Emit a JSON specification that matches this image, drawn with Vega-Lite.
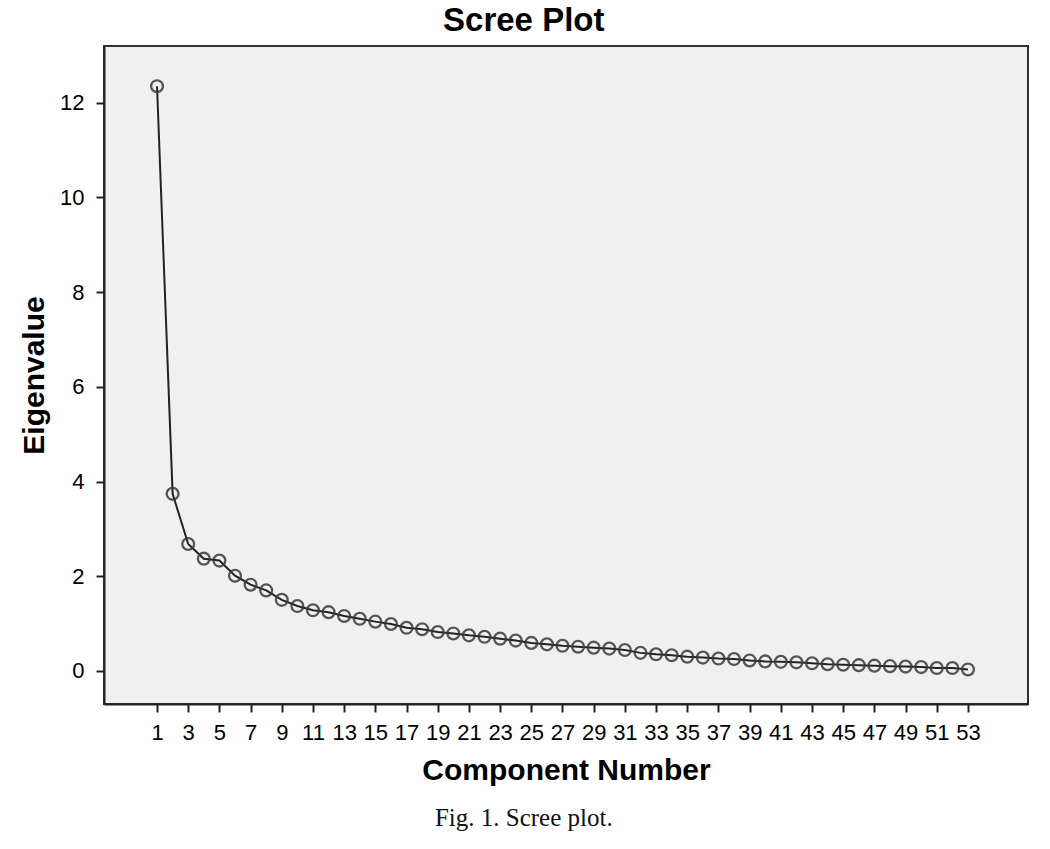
{
  "$schema": "https://vega.github.io/schema/vega-lite/v6.json",
  "background": "white",
  "padding": {"left": 18, "top": 4, "right": 20, "bottom": 10},
  "title": {"text": "Fig. 1. Scree plot.", "orient": "bottom", "anchor": "middle", "frame": "bounds", "font": "Liberation Serif", "fontSize": 25, "fontWeight": "normal", "color": "#111", "offset": 20},
  "config": {
    "font": "Liberation Sans",
    "view": {"stroke": "#333", "strokeWidth": 2, "fill": "#f0f0f0"},
    "axis": {"grid": false, "domainColor": "#222", "domainWidth": 2, "tickColor": "#222", "tickWidth": 2, "tickSize": 8, "labelFont": "Liberation Sans", "labelFontSize": 22, "labelColor": "#000", "titleFont": "Liberation Sans", "titleFontSize": 30, "titleFontWeight": "bold", "titleColor": "#000"}
  },
  "vconcat": [
    {
      "width": 924,
      "height": 658,
      "title": {"text": "Scree Plot", "anchor": "middle", "frame": "bounds", "font": "Liberation Sans", "fontSize": 33, "fontWeight": "bold", "color": "#000", "offset": 8},
      "data": {"values": [
        {"component": 1, "eigenvalue": 12.35},
        {"component": 2, "eigenvalue": 3.74},
        {"component": 3, "eigenvalue": 2.68},
        {"component": 4, "eigenvalue": 2.37},
        {"component": 5, "eigenvalue": 2.33},
        {"component": 6, "eigenvalue": 2.01},
        {"component": 7, "eigenvalue": 1.82},
        {"component": 8, "eigenvalue": 1.70},
        {"component": 9, "eigenvalue": 1.50},
        {"component": 10, "eigenvalue": 1.37},
        {"component": 11, "eigenvalue": 1.28},
        {"component": 12, "eigenvalue": 1.24},
        {"component": 13, "eigenvalue": 1.16},
        {"component": 14, "eigenvalue": 1.10},
        {"component": 15, "eigenvalue": 1.04},
        {"component": 16, "eigenvalue": 0.99},
        {"component": 17, "eigenvalue": 0.91},
        {"component": 18, "eigenvalue": 0.88},
        {"component": 19, "eigenvalue": 0.82},
        {"component": 20, "eigenvalue": 0.79},
        {"component": 21, "eigenvalue": 0.75},
        {"component": 22, "eigenvalue": 0.72},
        {"component": 23, "eigenvalue": 0.68},
        {"component": 24, "eigenvalue": 0.64},
        {"component": 25, "eigenvalue": 0.59},
        {"component": 26, "eigenvalue": 0.56},
        {"component": 27, "eigenvalue": 0.53},
        {"component": 28, "eigenvalue": 0.51},
        {"component": 29, "eigenvalue": 0.49},
        {"component": 30, "eigenvalue": 0.47},
        {"component": 31, "eigenvalue": 0.44},
        {"component": 32, "eigenvalue": 0.38},
        {"component": 33, "eigenvalue": 0.35},
        {"component": 34, "eigenvalue": 0.33},
        {"component": 35, "eigenvalue": 0.30},
        {"component": 36, "eigenvalue": 0.28},
        {"component": 37, "eigenvalue": 0.26},
        {"component": 38, "eigenvalue": 0.25},
        {"component": 39, "eigenvalue": 0.22},
        {"component": 40, "eigenvalue": 0.20},
        {"component": 41, "eigenvalue": 0.19},
        {"component": 42, "eigenvalue": 0.18},
        {"component": 43, "eigenvalue": 0.16},
        {"component": 44, "eigenvalue": 0.14},
        {"component": 45, "eigenvalue": 0.13},
        {"component": 46, "eigenvalue": 0.12},
        {"component": 47, "eigenvalue": 0.11},
        {"component": 48, "eigenvalue": 0.10},
        {"component": 49, "eigenvalue": 0.09},
        {"component": 50, "eigenvalue": 0.08},
        {"component": 51, "eigenvalue": 0.06},
        {"component": 52, "eigenvalue": 0.06},
        {"component": 53, "eigenvalue": 0.03}
      ]},
      "encoding": {
        "x": {"field": "component", "type": "quantitative", "title": "Component Number",
          "scale": {"domain": [-2.4, 56.85], "nice": false, "zero": false},
          "axis": {"values": [1,3,5,7,9,11,13,15,17,19,21,23,25,27,29,31,33,35,37,39,41,43,45,47,49,51,53], "labelPadding": 10, "titlePadding": 12, "labelOverlap": false, "labelFlush": false}},
        "y": {"field": "eigenvalue", "type": "quantitative", "title": "Eigenvalue",
          "scale": {"domain": [-0.7, 13.2], "nice": false, "zero": false},
          "axis": {"values": [0,2,4,6,8,10,12], "labelPadding": 12, "titlePadding": 10, "labelFlush": false}}
      },
      "layer": [
        {"mark": {"type": "line", "color": "#222", "strokeWidth": 2}},
        {"mark": {"type": "point", "shape": "circle", "filled": false, "size": 140, "stroke": "#3a3a3a", "strokeWidth": 2.3, "opacity": 0.85}}
      ]
    }
  ]
}
